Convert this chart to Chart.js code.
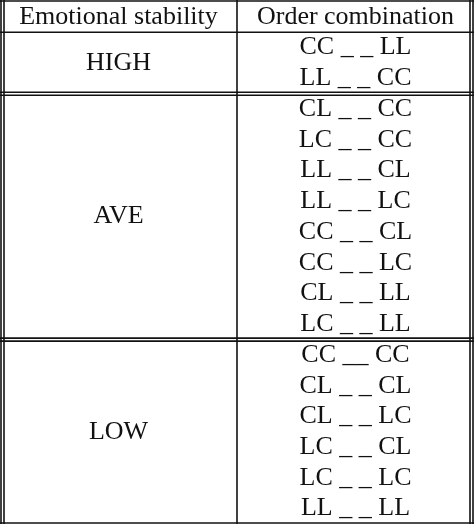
<!DOCTYPE html>
<html><head><meta charset="utf-8">
<script src="https://cdn.jsdelivr.net/npm/chart.js@4"></script>
<style>html,body{margin:0;padding:0;background:#fff}#w{width:474px;height:524px}</style>
</head><body><div id="w"><canvas id="c"></canvas></div>
<script>
const headers = ["Emotional stability", "Order combination"];
const groups = ["HIGH", "AVE", "LOW"];
const groupCombos = [
  ["CC _ _ LL", "LL _ _ CC"],
  ["CL _ _ CC", "LC _ _ CC", "LL _ _ CL", "LL _ _ LC", "CC _ _ CL", "CC _ _ LC", "CL _ _ LL", "LC _ _ LL"],
  ["CC __ CC", "CL _ _ CL", "CL _ _ LC", "LC _ _ CL", "LC _ _ LC", "LL _ _ LL"]
];
const headerH = 1.05;
const total = headerH + groupCombos.reduce((a, g) => a + g.length, 0);

const tablePlugin = {
  id: 'table',
  afterDraw(chart) {
    const ctx = chart.ctx, xs = chart.scales.x, ys = chart.scales.y;
    const X = v => xs.getPixelForValue(v), Y = v => ys.getPixelForValue(v);
    ctx.save();
    ctx.strokeStyle = '#111'; ctx.lineWidth = 1.6; ctx.fillStyle = '#111';
    const h = (y, x0, x1, off) => { ctx.beginPath(); ctx.moveTo(X(x0), Y(y) + off); ctx.lineTo(X(x1), Y(y) + off); ctx.stroke(); };
    const v = (x, off) => { ctx.beginPath(); ctx.moveTo(X(x) + off, Y(0)); ctx.lineTo(X(x) + off, Y(total)); ctx.stroke(); };
    h(0, 0, 2, 1); h(total, 0, 2, -1);
    v(0, 1); v(0, 4); v(2, -1); v(2, -4); v(1, 0);
    h(headerH, 0, 2, 0);
    ctx.textAlign = 'center'; ctx.textBaseline = 'middle';
    ctx.font = '26px "Liberation Serif", serif';
    ctx.fillText(headers[0], X(0.5), Y(headerH / 2) + 1);
    ctx.fillText(headers[1], X(1.5), Y(headerH / 2) + 1);
    let y = headerH;
    groupCombos.forEach((g, gi) => {
      if (gi > 0) { h(y, 0, 2, -1.5); h(y, 0, 2, 1.5); }
      ctx.fillText(groups[gi], X(0.5), Y(y + g.length / 2));
      g.forEach((s, i) => ctx.fillText(s, X(1.5), Y(y + i + 0.5)));
      y += g.length;
    });
    ctx.restore();
  }
};

new Chart(document.getElementById('c'), {
  type: 'scatter',
  data: { datasets: [{ data: [] }] },
  options: {
    responsive: true, maintainAspectRatio: false, animation: false,
    layout: { padding: 0 },
    plugins: { legend: { display: false }, tooltip: { enabled: false } },
    scales: {
      x: { type: 'linear', min: 0, max: 2, display: false },
      y: { type: 'linear', min: 0, max: total, reverse: true, display: false }
    }
  },
  plugins: [tablePlugin]
});
</script></body></html>
